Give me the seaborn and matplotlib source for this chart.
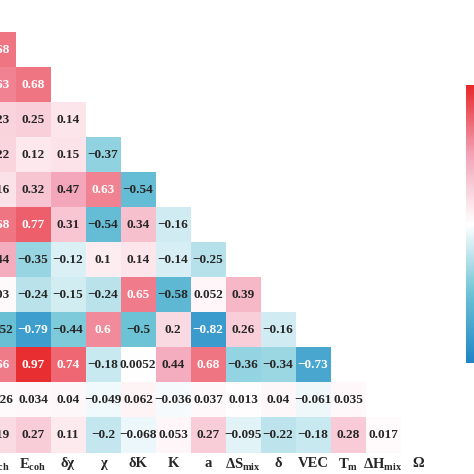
import numpy as np
import pandas as pd
import matplotlib
matplotlib.use("Agg")
import matplotlib.pyplot as plt
import seaborn as sns
from matplotlib.colors import LinearSegmentedColormap

sns.set_style("white")
plt.rcParams['font.family'] = ['Liberation Serif', 'DejaVu Serif']
plt.rcParams['font.weight'] = 'bold'
plt.rcParams['mathtext.fontset'] = 'custom'
plt.rcParams['mathtext.rm'] = 'Liberation Serif:bold'
plt.rcParams['mathtext.it'] = 'Liberation Serif:bold'

labels = [r'$\mathrm{H_{ch}}$', r'$\mathrm{E_{coh}}$', 'δχ', 'χ', 'δK', 'K', 'a',
          r'$\mathrm{\Delta S_{mix}}$', 'δ', 'VEC', r'$\mathrm{T_m}$',
          r'$\mathrm{\Delta H_{mix}}$', 'Ω']

# lower-triangle rows (row i has i values)
r_Ecoh = [0.68]
r_dchi = [0.63, 0.68]
r_chi = [0.23, 0.25, 0.14]
r_dK = [0.22, 0.12, 0.15, -0.37]
r_K = [0.16, 0.32, 0.47, 0.63, -0.54]
r_a = [0.68, 0.77, 0.31, -0.54, 0.34, -0.16]
r_dS = [0.44, -0.35, -0.12, 0.1, 0.14, -0.14, -0.25]
r_delta = [0.03, -0.24, -0.15, -0.24, 0.65, -0.58, 0.052, 0.39]
r_VEC = [-0.52, -0.79, -0.44, 0.6, -0.5, 0.2, -0.82, 0.26, -0.16]
r_Tm = [0.66, 0.97, 0.74, -0.18, 0.0052, 0.44, 0.68, -0.36, -0.34, -0.73]
r_dH = [0.026, 0.034, 0.04, -0.049, 0.062, -0.036, 0.037, 0.013, 0.04, -0.061, 0.035]
r_Om = [0.19, 0.27, 0.11, -0.2, -0.068, 0.053, 0.27, -0.095, -0.22, -0.18, 0.28, 0.017]
rows = [r_Ecoh, r_dchi, r_chi, r_dK, r_K, r_a, r_dS, r_delta, r_VEC, r_Tm, r_dH, r_Om]

n = len(labels)
M = np.eye(n)
for i, r in enumerate(rows, start=1):
    for j, v in enumerate(r):
        M[i, j] = v
        M[j, i] = v
df = pd.DataFrame(M, index=labels, columns=labels)
mask = np.triu(np.ones_like(M, dtype=bool))

cmap = LinearSegmentedColormap.from_list(
    'c', ['#1f84c6', '#6cc3d6', '#ffffff', '#f3a2b6', '#e8282a'])

fig = plt.figure(figsize=(4.74, 4.74), dpi=100)
ax = fig.add_axes([-19.5/474, (474-452.5)/474, 455/474, 455.5/474])
cax = fig.add_axes([466/474, (474-363)/474, 14/474, 278/474])

def fmt(v):
    return f"{v:.2g}".replace('-', '−')

annot = np.vectorize(fmt)(M)
sns.heatmap(df, mask=mask, cmap=cmap, vmin=-1, vmax=1, annot=annot, fmt='',
            annot_kws={'fontsize': 9.5, 'fontweight': 'bold'},
            ax=ax, cbar_ax=cax, square=False, linewidths=0)
ax.tick_params(length=0, labelsize=10.5)
ax.set_xticklabels(labels, rotation=0, fontweight='bold')
ax.set_yticklabels(labels, rotation=0, fontweight='bold')
cax.set_yticks([])
cax.tick_params(length=0)
fig.savefig('out.png', dpi=100)
